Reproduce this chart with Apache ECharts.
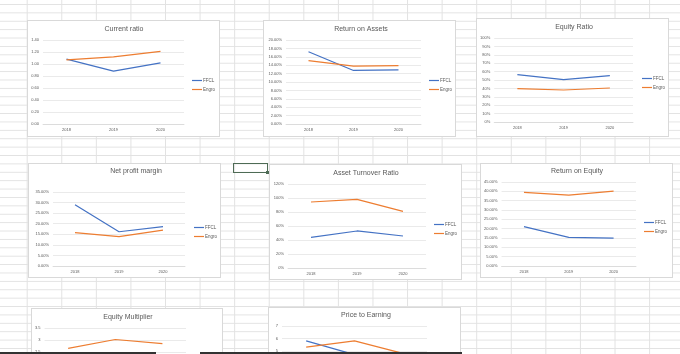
<!DOCTYPE html>
<html>
<head>
<meta charset="utf-8">
<script src="https://cdn.jsdelivr.net/npm/echarts@6/dist/echarts.min.js"></script>
<style>
  html, body { margin: 0; padding: 0; }
  body {
    width: 680px; height: 354px; overflow: hidden; position: relative;
    background-color: #fff;
    background-image:
      linear-gradient(to right, #e2e2e2 1px, transparent 1px),
      linear-gradient(to bottom, #e2e2e2 1px, transparent 1px);
    background-size: 34.58px 8.4px;
    background-position: 26.7px 4px;
  }
  .box { position: absolute; background: #fff; border: 1px solid #d9d9d9; box-sizing: border-box; }
  .sel { position: absolute; left: 233px; top: 163px; width: 35px; height: 10px; border: 1px solid #4e6b55; box-sizing: border-box; }
  .sel:after { content: ''; position: absolute; right: -2px; bottom: -2px; width: 3px; height: 3px; background: #4e6b55; }
  .bar { position: absolute; top: 352px; height: 2px; background: #333; }
</style>
</head>
<body>
<div class="sel"></div>
<div id="c1" class="box" style="left:27px;top:20px;width:193px;height:117px"></div>
<div id="c2" class="box" style="left:263px;top:20px;width:193px;height:117px"></div>
<div id="c3" class="box" style="left:476px;top:18px;width:193px;height:119px"></div>
<div id="c4" class="box" style="left:28px;top:163px;width:193px;height:115px"></div>
<div id="c5" class="box" style="left:269px;top:164px;width:193px;height:116px"></div>
<div id="c6" class="box" style="left:480px;top:163px;width:193px;height:115px"></div>
<div id="c7" class="box" style="left:31px;top:308px;width:192px;height:117px"></div>
<div id="c8" class="box" style="left:268px;top:307px;width:193px;height:117px"></div>
<div class="bar" style="left:0;width:156px"></div>
<div class="bar" style="left:200px;width:262px"></div>
<script>
// data
const years = ['2018', '2019', '2020'];
const currentFFCL = [1.08, 0.88, 1.02];
const currentEngro = [1.07, 1.12, 1.21];
const roaFFCL = [17.2, 12.75, 12.9];
const roaEngro = [15.1, 13.8, 13.9];
const eqFFCL = [56.3, 50.4, 55.2];
const eqEngro = [39.7, 38.1, 40.5];
const npmFFCL = [29.0, 16.2, 18.6];
const npmEngro = [15.8, 13.9, 17.0];
const atrFFCL = [43.8, 52.9, 45.7];
const atrEngro = [94.3, 98.1, 81.0];
const roeFFCL = [21.1, 15.3, 14.9];
const roeEngro = [39.4, 38.0, 40.1];
const emFFCL = [1.78, 1.98, 1.81];
const emEngro = [2.65, 3.02, 2.85];
const peFFCL = [5.8, 4.7, 4.4];
const peEngro = [5.3, 5.8, 4.8];

const FONT = 'Liberation Sans';
const GREY = '#595959';

function pct2(v) { return v.toFixed(2) + '%'; }

// one small excel-like line chart
function makeChart(id, c) {
  let chart = echarts.init(document.getElementById(id));
  chart.setOption({
    animation: false,
    textStyle: { fontFamily: FONT },
    title: {
      text: c.title,
      left: c.titleX, top: c.titleY,
      padding: 0,
      textAlign: 'center',
      textStyle: { fontSize: 7, fontWeight: 'normal', color: GREY, fontFamily: FONT }
    },
    legend: {
      orient: 'vertical',
      left: c.legX, top: c.legY,
      padding: 0,
      icon: 'rect',
      itemWidth: 10, itemHeight: 1.2, itemGap: 4,
      textStyle: { fontSize: 4.5, color: GREY, lineHeight: 5, padding: [0, 0, 0, -4] },
      data: ['FFCL', 'Engro']
    },
    grid: { left: c.grid[0], top: c.grid[1], width: c.grid[2], height: c.grid[3], containLabel: false },
    xAxis: {
      type: 'category',
      data: years,
      axisLine: { lineStyle: { color: '#d9d9d9', width: 0.8 } },
      axisTick: { show: false },
      axisLabel: { fontSize: 4, color: GREY, margin: 4 }
    },
    yAxis: {
      type: 'value',
      min: 0, max: c.max, interval: c.interval,
      axisLine: { show: false },
      axisTick: { show: false },
      splitLine: { lineStyle: { color: '#e4e4e4', width: 0.8 } },
      axisLabel: { fontSize: 4, color: GREY, margin: 4, formatter: c.fmt }
    },
    series: [
      { name: 'FFCL', type: 'line', data: c.ffcl, symbol: 'none', lineStyle: { color: '#4472C4', width: 1.2 }, itemStyle: { color: '#4472C4' } },
      { name: 'Engro', type: 'line', data: c.engro, symbol: 'none', lineStyle: { color: '#ED7D31', width: 1.2 }, itemStyle: { color: '#ED7D31' } }
    ]
  });
}

makeChart('c1', { title: 'Current ratio', titleX: 96, titleY: 5, legX: 164, legY: 57,
  grid: [15, 19, 141, 84], max: 1.4, interval: 0.2, fmt: v => v.toFixed(2),
  ffcl: currentFFCL, engro: currentEngro });
makeChart('c2', { title: 'Return on Assets', titleX: 97, titleY: 5, legX: 165, legY: 57,
  grid: [22, 19, 135, 84], max: 20, interval: 2, fmt: pct2,
  ffcl: roaFFCL, engro: roaEngro });
makeChart('c3', { title: 'Equity Ratio', titleX: 97, titleY: 5, legX: 165, legY: 57,
  grid: [17, 19, 139, 84], max: 100, interval: 10, fmt: v => v + '%',
  ffcl: eqFFCL, engro: eqEngro });
makeChart('c4', { title: 'Net profit margin', titleX: 107, titleY: 4, legX: 165, legY: 61,
  grid: [24, 28, 132, 74], max: 35, interval: 5, fmt: pct2,
  ffcl: npmFFCL, engro: npmEngro });
makeChart('c5', { title: 'Asset Turnover Ratio', titleX: 96, titleY: 5, legX: 164, legY: 57,
  grid: [18, 19, 138, 84], max: 120, interval: 20, fmt: v => v + '%',
  ffcl: atrFFCL, engro: atrEngro });
makeChart('c6', { title: 'Return on Equity', titleX: 96, titleY: 4, legX: 163, legY: 56,
  grid: [20, 18, 135, 84], max: 45, interval: 5, fmt: pct2,
  ffcl: roeFFCL, engro: roeEngro });
makeChart('c7', { title: 'Equity Multiplier', titleX: 96, titleY: 5, legX: 164, legY: 57,
  grid: [12, 19, 142, 84], max: 3.5, interval: 0.5, fmt: v => String(v),
  ffcl: emFFCL, engro: emEngro });
makeChart('c8', { title: 'Price to Earning', titleX: 97, titleY: 4, legX: 165, legY: 57,
  grid: [13, 18, 145, 87], max: 7, interval: 1, fmt: v => String(v),
  ffcl: peFFCL, engro: peEngro });
</script>
</body>
</html>
